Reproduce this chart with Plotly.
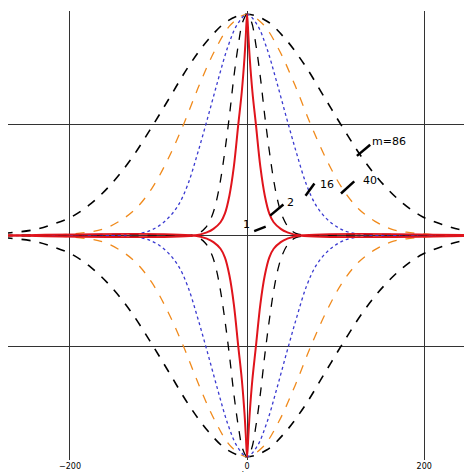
import plotly.graph_objects as go

# half-profiles (k >= 0, upper branch)
k86 = [0, 22, 44, 66, 88, 110, 132, 154, 176, 198, 220, 242, 275]
v86 = [2.0, 1.94, 1.77, 1.53, 1.24, 0.95, 0.68, 0.46, 0.29, 0.17, 0.10, 0.05, 0.02]
k40 = [0, 18, 36, 54, 72, 90, 108, 126, 144, 162, 180, 216, 275]
v40 = [2.0, 1.91, 1.68, 1.36, 1.0, 0.68, 0.42, 0.24, 0.13, 0.06, 0.03, 0.005, 0.0]
k16 = [0, 11, 22, 33, 45, 56, 67, 78, 90, 103, 117, 145, 275]
v16 = [2.0, 1.91, 1.70, 1.40, 1.05, 0.74, 0.46, 0.27, 0.15, 0.07, 0.025, 0.003, 0.0]
k2 = [0, 5, 10, 15, 20, 25, 30, 35, 40, 47, 55, 70, 275]
v2 = [2.0, 1.93, 1.72, 1.43, 1.08, 0.77, 0.50, 0.30, 0.17, 0.07, 0.02, 0.0, 0.0]
k1 = [0, 1.5, 3, 6, 10, 15, 20, 25, 30, 38, 45, 60, 275]
v1 = [2.0, 1.8, 1.6, 1.3, 1.0, 0.62, 0.36, 0.2, 0.12, 0.06, 0.03, 0.0, 0.0]

fig = go.Figure()

def add(ks, vs, color, dash, width):
    xs = [-k for k in reversed(ks)] + ks[1:]
    ys = list(reversed(vs)) + vs[1:]
    for sgn in (1, -1):
        fig.add_trace(go.Scatter(x=xs, y=[sgn * y for y in ys], mode="lines",
                                 line=dict(color=color, dash=dash, width=width, shape="spline"),
                                 showlegend=False, hoverinfo="skip"))

add(k86, v86, "black", "dash", 1.6)
add(k40, v40, "#f08a1c", "dash", 1.3)
add(k16, v16, "#3a3ad0", "dot", 1.3)
add(k2, v2, "black", "dash", 1.3)
add(k1, v1, "#e0141c", "solid", 2)

labels = [("m=86", 139, 0.85, 124, 0.72, 139, 0.82),
          ("40", 129, 0.50, 106, 0.38, 121, 0.49),
          ("16", 80, 0.46, 66, 0.36, 76, 0.47),
          ("2", 43, 0.30, 26, 0.18, 41, 0.28),
          ("1", 6, 0.10, 8, 0.04, 21, 0.08)]
for t, tx, ty, x0, y0, x1, y1 in labels:
    fig.add_annotation(x=tx, y=ty, text=t, showarrow=False, font=dict(size=11, color="black"),
                       xanchor="left" if t != "1" else "right")
    fig.add_shape(type="line", x0=x0, y0=y0, x1=x1, y1=y1, line=dict(color="black", width=2.5))

fig.update_layout(width=472, height=472, margin=dict(l=0, r=0, t=3, b=20),
                  plot_bgcolor="white", paper_bgcolor="white",
                  font=dict(family="DejaVu Sans", size=8, color="black"))
fig.update_xaxes(range=[-270, 263], tickvals=[-200, 0, 200], ticktext=["\u2212200", "0", "200"],
                 showgrid=True, gridcolor="#333", gridwidth=0.8, zeroline=False, automargin=False,
                 title=dict(text="k", font=dict(size=8), standoff=2), ticks="")
fig.update_yaxes(range=[-2.03, 2.03], tickvals=[-1, 0, 1], showticklabels=False, automargin=False,
                 showgrid=True, gridcolor="#333", gridwidth=0.8, zeroline=False)
fig.write_html("out.html")
